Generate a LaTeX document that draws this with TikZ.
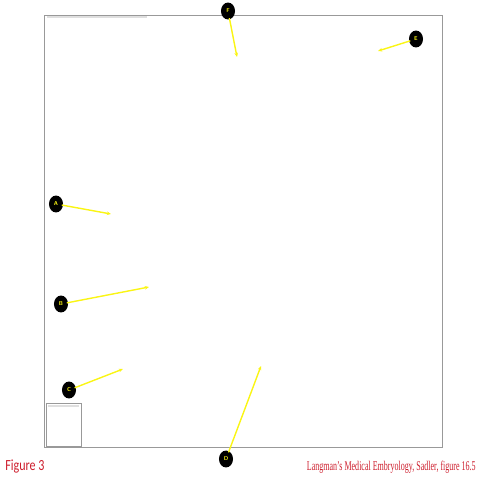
\documentclass[tikz,border=0pt]{standalone}
\usepackage{fontspec}
\setmainfont{Liberation Serif}
\newfontfamily\capfont{Carlito}
\usepackage{xcolor}
\usetikzlibrary{shapes,arrows.meta,positioning}

\definecolor{markyellow}{RGB}{250,245,20}
\definecolor{capred}{RGB}{205,30,45}

\tikzset{
    tag/.style={
        ellipse,
        fill=black,
        inner sep=0pt,
        minimum width=10pt,
        minimum height=12pt,
        text=markyellow,
        font=\fontsize{4}{4}\selectfont\sffamily\bfseries
    },
    pointer/.style={
        -{Stealth[length=3pt,width=2.5pt]},
        line width=1pt,
        color=markyellow,
        shorten <=-1pt
    }
}

\begin{document}
\begin{tikzpicture}[x=0.025cm,y=-0.025cm]
                \useasboundingbox (0,0) rectangle (480,480);

                % frame
                \draw[
                    line width=0.5pt,
                    color=gray!80
                    ] (44,15) rectangle (442,447);

                \draw[
                    line width=1pt,
                    color=gray!25
                    ] (47,17) to (147,17);

                % small inset box
                \draw[
                    line width=0.5pt,
                    color=gray!80
                    ] (46,403) rectangle (81,446);

                \draw[
                    line width=1pt,
                    color=gray!25
                    ] (48,406) to (79,406);

                % tags
                \node[tag] (tagF) at (228,11) {F};
                \node[tag] (tagE) at (416,39) {E};
                \node[tag] (tagA) at (56,204) {A};
                \node[tag] (tagB) at (61,304) {B};
                \node[tag] (tagC) at (69,390) {C};
                \node[tag] (tagD) at (226,459) {D};

                % tips
                \coordinate (tipF) at (237,57);
                \coordinate (tipE) at (378,51);
                \coordinate (tipA) at (111,214);
                \coordinate (tipB) at (149,287);
                \coordinate (tipC) at (123,369);
                \coordinate (tipD) at (261,366);

                \draw[pointer] (tagF) to (tipF);
                \draw[pointer] (tagE) to (tipE);
                \draw[pointer] (tagA) to (tipA);
                \draw[pointer] (tagB) to (tipB);
                \draw[pointer] (tagC) to (tipC);
                \draw[pointer] (tagD) to (tipD);

                % captions
                \node[
                    anchor=west,
                    inner sep=0pt,
                    text=capred,
                    font=\capfont\fontsize{11}{11}\selectfont
                    ] (figcap) at (5,467) {\scalebox{0.78}[1]{Figure 3}};

                \node[
                    anchor=east,
                    inner sep=0pt,
                    text=capred,
                    font=\fontsize{9.5}{9.5}\selectfont
                    ] (source) at (476,467) {\scalebox{0.6}[1]{Langman's Medical Embryology, Sadler, figure 16.5}};

            \end{tikzpicture}
\end{document}
